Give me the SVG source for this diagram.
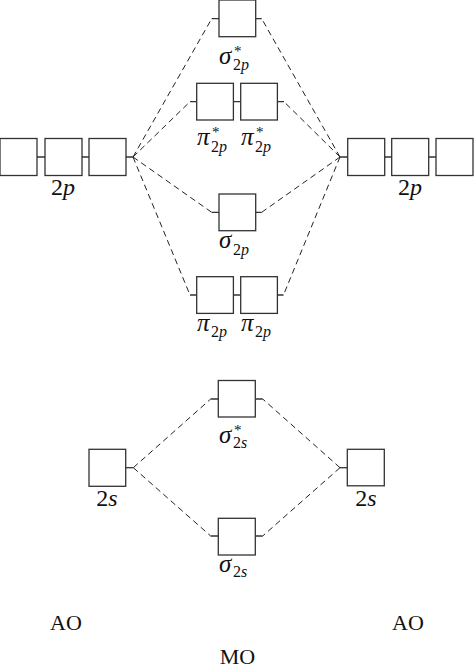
<svg xmlns="http://www.w3.org/2000/svg" width="474" height="665" viewBox="0 0 474 665">
<style>
.box{fill:#fff;stroke:#333;stroke-width:1.3}
.stub{stroke:#333;stroke-width:1.3;fill:none}
.dash{stroke:#222;stroke-width:1;stroke-dasharray:6 4;fill:none}
text{font-family:"Liberation Serif","Times New Roman",serif;fill:#111}
.m{font-size:24px}
.g{font-size:25px;font-style:italic}
.s{font-size:16px;font-style:normal}
.st{font-size:15px;font-style:normal}
.i{font-style:italic}
.big{font-size:22px}
</style>
<rect width="474" height="665" fill="#fff"/>
<g id="connectors">
<path class="dash" d="M133,157 L211.7,18.7 M133,157 L190,101.7 M133,157 L211.7,212.3 M133,157 L190,295"/>
<path class="dash" d="M340,157 L261.7,18.7 M340,157 L284,101.7 M340,157 L261.7,212.3 M340,157 L283.5,295"/>
<path class="dash" d="M133.3,467.7 L210.7,399 M133.3,467.7 L210.7,536"/>
<path class="dash" d="M340,467.7 L262.7,399 M340,467.7 L262.7,536"/>
</g>
<g id="ao-left-2p">
<path class="stub" d="M37,157 H45 M82,157 H89 M126,157 H133"/>
<rect class="box" x="0" y="138.5" width="37" height="37"/>
<rect class="box" x="45" y="138.5" width="37" height="37"/>
<rect class="box" x="89" y="138.5" width="37" height="37"/>
<text class="m" x="63" y="195" text-anchor="middle">2<tspan class="i">p</tspan></text>
</g>
<g id="ao-right-2p">
<path class="stub" d="M340,157 H347.7 M384.7,157 H391.7 M428.7,157 H436"/>
<rect class="box" x="347.7" y="138.5" width="37" height="37"/>
<rect class="box" x="391.7" y="138.5" width="37" height="37"/>
<rect class="box" x="436" y="138.5" width="37" height="37"/>
<text class="m" x="410" y="195" text-anchor="middle">2<tspan class="i">p</tspan></text>
</g>
<g id="mo-sigma-star-2p">
<path class="stub" d="M211.7,18.7 H219 M255.7,18.7 H261.7"/>
<rect class="box" x="219" y="0" width="36.7" height="36.7"/>
<text class="g" x="219" y="64">σ<tspan class="st" x="234" y="56">*</tspan><tspan class="s" x="233" y="70">2<tspan class="i">p</tspan></tspan></text>
</g>
<g id="mo-pi-star-2p">
<path class="stub" d="M190,101.7 H196.7 M233.3,101.7 H240.7 M277.3,101.7 H284"/>
<rect class="box" x="196.7" y="83.3" width="36.7" height="36.7"/>
<rect class="box" x="240.7" y="83.3" width="36.7" height="36.7"/>
<text class="g" x="197" y="145">π<tspan class="st" x="212" y="137">*</tspan><tspan class="s" x="211" y="152">2<tspan class="i">p</tspan></tspan></text>
<text class="g" x="241" y="145">π<tspan class="st" x="256" y="137">*</tspan><tspan class="s" x="255" y="152">2<tspan class="i">p</tspan></tspan></text>
</g>
<g id="mo-sigma-2p">
<path class="stub" d="M211.7,212.3 H219 M255.7,212.3 H261.7"/>
<rect class="box" x="219" y="194" width="36.7" height="36.7"/>
<text class="g" x="219" y="248">σ<tspan class="s" x="233" y="255">2<tspan class="i">p</tspan></tspan></text>
</g>
<g id="mo-pi-2p">
<path class="stub" d="M190,295 H196.7 M233.3,295 H240.7 M277.3,295 H283.5"/>
<rect class="box" x="196.7" y="276.7" width="36.7" height="36.7"/>
<rect class="box" x="240.7" y="276.7" width="36.7" height="36.7"/>
<text class="g" x="197" y="330.5">π<tspan class="s" x="211" y="336.5">2<tspan class="i">p</tspan></tspan></text>
<text class="g" x="241" y="330.5">π<tspan class="s" x="255" y="336.5">2<tspan class="i">p</tspan></tspan></text>
</g>
<g id="mo-sigma-star-2s">
<path class="stub" d="M210.7,399 H218.3 M255.3,399 H262.7"/>
<rect class="box" x="218.3" y="380.5" width="37" height="36.5"/>
<text class="g" x="219" y="443">σ<tspan class="st" x="234" y="435">*</tspan><tspan class="s" x="233" y="448">2<tspan class="i">s</tspan></tspan></text>
</g>
<g id="mo-sigma-2s">
<path class="stub" d="M210.7,536 H218.3 M255.3,536 H262.7"/>
<rect class="box" x="218.3" y="518.3" width="37" height="36.7"/>
<text class="g" x="219" y="571.5">σ<tspan class="s" x="233" y="577">2<tspan class="i">s</tspan></tspan></text>
</g>
<g id="ao-left-2s">
<path class="stub" d="M125.7,467.7 H133.3"/>
<rect class="box" x="89" y="449.3" width="36.7" height="37"/>
<text class="m" x="107" y="505.5" text-anchor="middle">2<tspan class="i">s</tspan></text>
</g>
<g id="ao-right-2s">
<path class="stub" d="M340,467.7 H347.3"/>
<rect class="box" x="347.3" y="449.3" width="37" height="36.5"/>
<text class="m" x="366" y="505.5" text-anchor="middle">2<tspan class="i">s</tspan></text>
</g>
<g id="axis-labels">
<text class="big" x="66" y="630" text-anchor="middle">AO</text>
<text class="big" x="408" y="630" text-anchor="middle">AO</text>
<text class="big" x="237.5" y="664" text-anchor="middle">MO</text>
</g>
</svg>
